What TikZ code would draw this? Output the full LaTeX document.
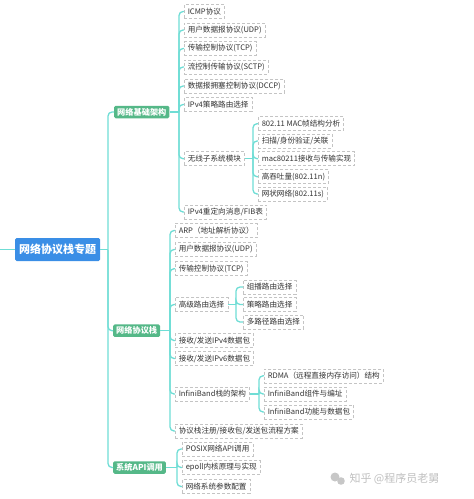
\documentclass[tikz,border=0pt]{standalone}
\usepackage{fontspec}
\setmainfont{Noto Sans CJK SC}
\usetikzlibrary{calc}
\definecolor{rootblue}{HTML}{3A8EE6}
\definecolor{grn}{HTML}{55B888}
\definecolor{conn}{HTML}{6FDDD5}
\definecolor{bord}{HTML}{C4C4C4}
\tikzset{
  rootbox/.style={fill=rootblue, text=white, font=\fontsize{11}{12}\selectfont\bfseries, rounded corners=1.5pt, minimum height=23pt, inner xsep=4pt, anchor=west},
  grnbox/.style={fill=grn, text=white, font=\fontsize{8.2}{9}\selectfont\bfseries, rounded corners=1.5pt, minimum height=12.5pt, inner xsep=3pt, inner ysep=0pt, anchor=west},
  leaf/.style={draw=bord, densely dashed, line width=0.5pt, fill=white, font=\fontsize{7.6}{9}\selectfont, text=black!80, minimum height=14pt, inner xsep=3.5pt, inner ysep=0pt, anchor=west},
  link/.style={draw=conn, line width=1.3pt, rounded corners=4pt},
}
\begin{document}
\begin{tikzpicture}[x=1pt,y=-1pt]
\useasboundingbox (0,0) rectangle (474,499);
% root
\node[rootbox] (root) at (15,249.5) {网络协议栈专题};
\coordinate (edge) at (0,249.5);
% green
\node[grnbox] (g1) at (114,112) {网络基础架构};
\node[grnbox] (g2) at (113,330.7) {网络协议栈};
\node[grnbox] (g3) at (113,467.5) {系统API调用};
% group 1
\node[leaf] (a1) at (184,11.5) {ICMP协议};
\node[leaf] (a2) at (184,30) {用户数据报协议(UDP)};
\node[leaf] (a3) at (184,48.5) {传输控制协议(TCP)};
\node[leaf] (a4) at (184,67) {流控制传输协议(SCTP)};
\node[leaf] (a5) at (184,86) {数据报拥塞控制协议(DCCP)};
\node[leaf] (a6) at (184,104.5) {IPv4策略路由选择};
\node[leaf] (a7) at (184,158.7) {无线子系统模块};
\node[leaf] (a8) at (184,212) {IPv4重定向消息/FIB表};
\node[leaf] (w1) at (258,123.7) {802.11 MAC帧结构分析};
\node[leaf] (w2) at (258,141) {扫描/身份验证/关联};
\node[leaf] (w3) at (258,158.7) {mac80211接收与传输实现};
\node[leaf] (w4) at (258,176.7) {高吞吐量(802.11n)};
\node[leaf] (w5) at (258,194) {网状网络(802.11s)};
% group 2
\node[leaf] (b1) at (175,230.5) {ARP（地址解析协议）};
\node[leaf] (b2) at (175,249.5) {用户数据报协议(UDP)};
\node[leaf] (b3) at (175,268.7) {传输控制协议(TCP)};
\node[leaf] (b4) at (175,304.5) {高级路由选择};
\node[leaf] (b5) at (175,340.5) {接收/发送IPv4数据包};
\node[leaf] (b6) at (175,358.5) {接收/发送IPv6数据包};
\node[leaf] (b7) at (175,394) {InfiniBand栈的架构};
\node[leaf] (b8) at (175,431) {协议栈注册/接收包/发送包流程方案};
\node[leaf] (r1) at (243,287) {组播路由选择};
\node[leaf] (r2) at (243,304.5) {策略路由选择};
\node[leaf] (r3) at (243,322) {多路径路由选择};
\node[leaf] (i1) at (264,375.8) {RDMA（远程直接内存访问）结构};
\node[leaf] (i2) at (264,394) {InfiniBand组件与编址};
\node[leaf] (i3) at (264,412) {InfiniBand功能与数据包};
% group 3
\node[leaf] (c1) at (182,449) {POSIX网络API调用};
\node[leaf] (c2) at (182,467.5) {epoll内核原理与实现};
\node[leaf] (c3) at (182,486.5) {网络系统参数配置};
% junctions
\coordinate (j0) at (108,249.5);
\coordinate (j1) at (179,112);
\coordinate (jw) at (253,158.7);
\coordinate (j2) at (170,330.7);
\coordinate (jr) at (236,304.5);
\coordinate (ji) at (259,394);
\coordinate (j3) at (177,467.5);
% connectors
\draw[link] (edge) -- (root.west);
\draw[link] (root.east) -- (j0);
\foreach \n in {g1,g2,g3} \draw[link] (j0) |- (\n.west);
\draw[link] (g1.east) -- (j1);
\foreach \n in {a1,a2,a3,a4,a5,a6,a7,a8} \draw[link] (j1) |- (\n.west);
\draw[link] (a7.east) -- (jw);
\foreach \n in {w1,w2,w3,w4,w5} \draw[link] (jw) |- (\n.west);
\draw[link] (g2.east) -- (j2);
\foreach \n in {b1,b2,b3,b4,b5,b6,b7,b8} \draw[link] (j2) |- (\n.west);
\draw[link] (b4.east) -- (jr);
\foreach \n in {r1,r2,r3} \draw[link] (jr) |- (\n.west);
\draw[link] (b7.east) -- (ji);
\foreach \n in {i1,i2,i3} \draw[link] (ji) |- (\n.west);
\draw[link] (g3.east) -- (j3);
\foreach \n in {c1,c2,c3} \draw[link] (j3) |- (\n.west);
% watermark
\fill[black!22] (335,477) circle (4.5);
\fill[black!22] (341,481) circle (3.8);
\node[anchor=west, text=black!25, font=\fontsize{11}{12}\selectfont] (wm) at (346,479) {知乎 @程序员老舅};
\end{tikzpicture}
\end{document}
